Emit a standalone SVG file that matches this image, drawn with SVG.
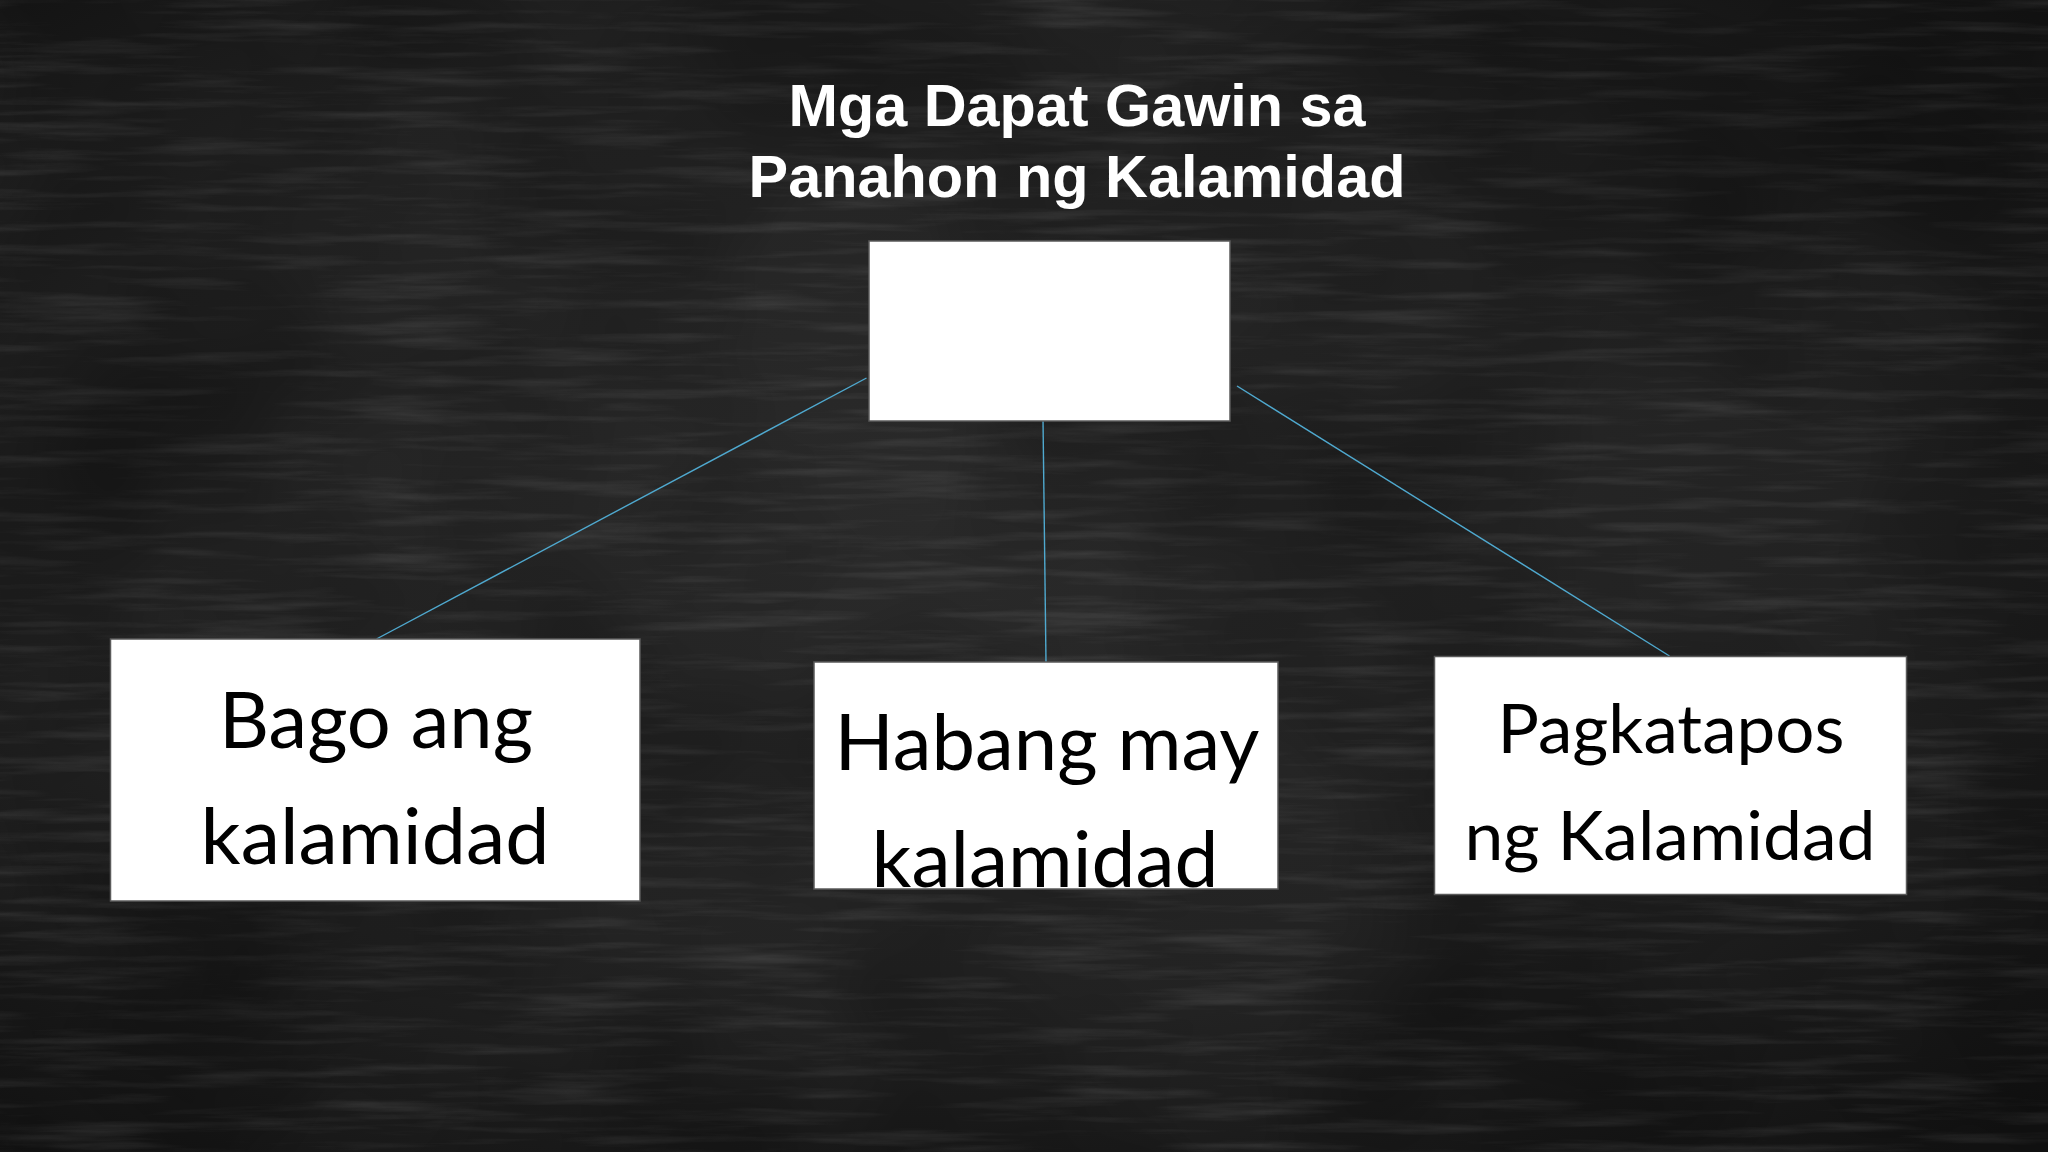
<svg xmlns="http://www.w3.org/2000/svg" width="2048" height="1152" viewBox="0 0 2048 1152">
  <defs>
    <radialGradient id="bg" cx="0.45" cy="0.45" r="0.75">
      <stop offset="0" stop-color="#2a2a2a"/>
      <stop offset="0.6" stop-color="#222222"/>
      <stop offset="1" stop-color="#111111"/>
    </radialGradient>
    <filter id="chalk" x="0" y="0" width="100%" height="100%">
      <feTurbulence type="fractalNoise" baseFrequency="0.006 0.09" numOctaves="4" seed="11" result="n"/>
      <feColorMatrix in="n" type="matrix" values="0 0 0 0 1  0 0 0 0 1  0 0 0 0 1  0 0 0 1.2 -0.55"/>
    </filter>
    <filter id="blotch" x="0" y="0" width="100%" height="100%">
      <feTurbulence type="fractalNoise" baseFrequency="0.003" numOctaves="3" seed="3" result="m"/>
      <feColorMatrix in="m" type="matrix" values="0 0 0 0 0  0 0 0 0 0  0 0 0 0 0  0 0 0 1.4 -0.5"/>
    </filter>
    <style>
      .node { fill: #ffffff; stroke: #5a5a5a; stroke-width: 1.5; }
      .lbl { font-family: Lato, "Open Sans", "Liberation Sans", sans-serif; fill: #000000; text-anchor: middle; }
      .title { font-family: "Liberation Sans", Arial, sans-serif; font-weight: bold; font-size: 60px; fill: #ffffff; text-anchor: middle; }
      .conn { stroke: #4fa9cf; stroke-width: 1.4; fill: none; }
    </style>
  </defs>

  <rect x="0" y="0" width="2048" height="1152" fill="url(#bg)"/>
  <rect x="0" y="0" width="2048" height="1152" filter="url(#chalk)" opacity="0.18"/>
  <rect x="0" y="0" width="2048" height="1152" filter="url(#blotch)" opacity="0.5"/>

  <g id="title">
    <text class="title" x="1077" y="126" textLength="577" lengthAdjust="spacingAndGlyphs">Mga Dapat Gawin sa</text>
    <text class="title" x="1077" y="197" textLength="657" lengthAdjust="spacingAndGlyphs">Panahon ng Kalamidad</text>
  </g>

  <g id="connectors">
    <line class="conn" x1="866.5" y1="378" x2="376.5" y2="639"/>
    <line class="conn" x1="1043" y1="419" x2="1046" y2="662"/>
    <line class="conn" x1="1237" y1="386" x2="1669.5" y2="656"/>
  </g>

  <g id="node-top">
    <rect class="node" x="869" y="241" width="361" height="180"/>
  </g>

  <g id="node-bago">
    <rect class="node" x="110.5" y="639" width="529.5" height="262"/>
    <text class="lbl" font-size="77" x="376" y="747.5" textLength="314" lengthAdjust="spacingAndGlyphs">Bago ang</text>
    <text class="lbl" font-size="77" x="375" y="864" textLength="349" lengthAdjust="spacingAndGlyphs">kalamidad</text>
  </g>

  <g id="node-habang">
    <rect class="node" x="814" y="662" width="464" height="227"/>
    <text class="lbl" font-size="77" x="1047" y="770" textLength="425" lengthAdjust="spacingAndGlyphs">Habang may</text>
    <text class="lbl" font-size="77" x="1045" y="887" textLength="347" lengthAdjust="spacingAndGlyphs">kalamidad</text>
  </g>

  <g id="node-pagkatapos">
    <rect class="node" x="1434.5" y="656.5" width="472" height="238"/>
    <text class="lbl" font-size="67" x="1671" y="753" textLength="347" lengthAdjust="spacingAndGlyphs">Pagkatapos</text>
    <text class="lbl" font-size="67" x="1670" y="860" textLength="411" lengthAdjust="spacingAndGlyphs">ng Kalamidad</text>
  </g>
</svg>
